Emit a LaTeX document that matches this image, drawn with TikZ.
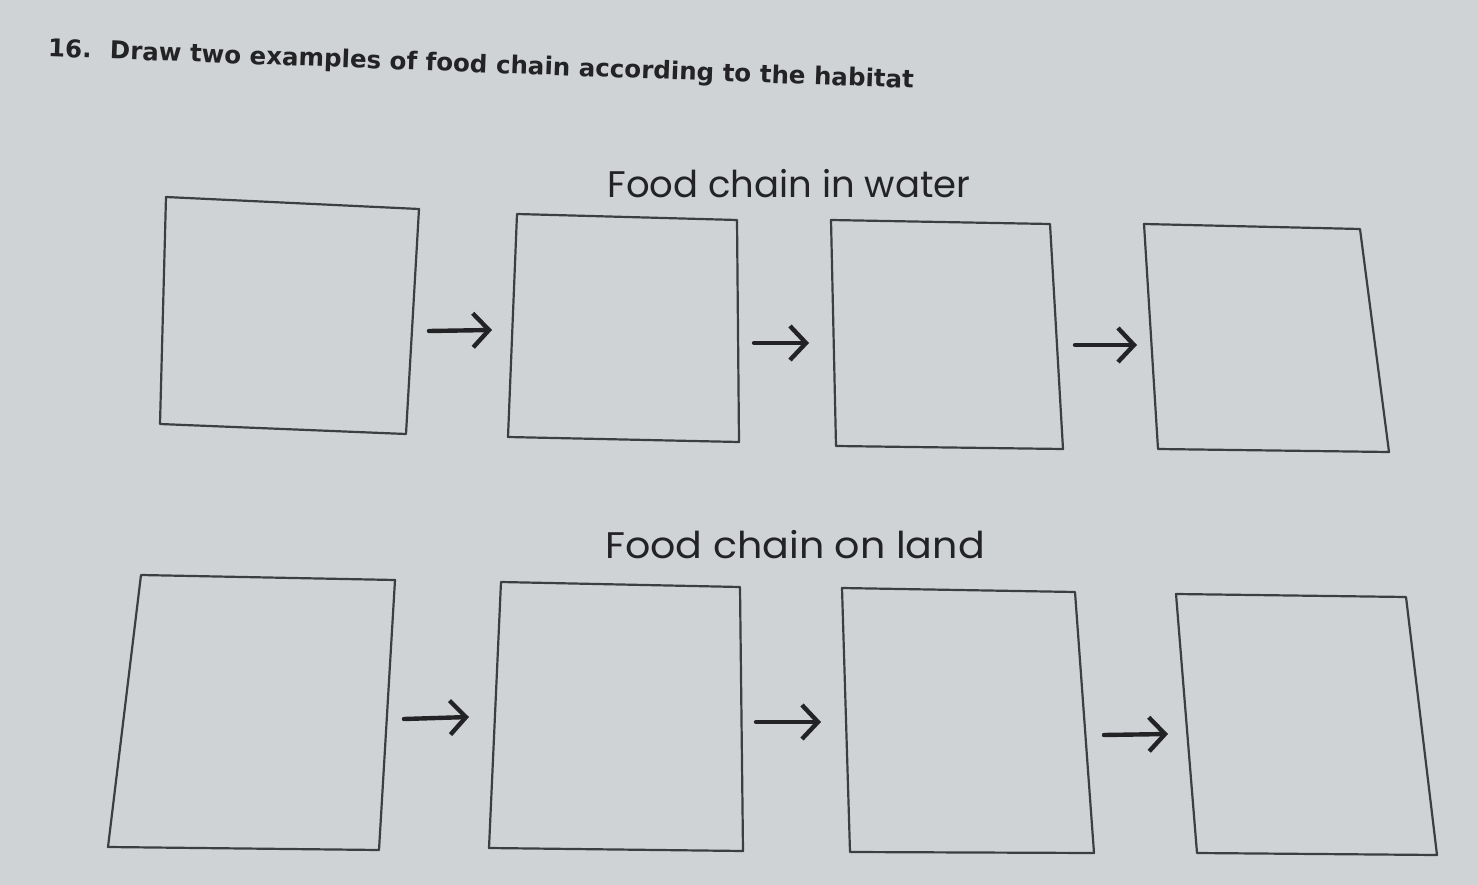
\documentclass[tikz,border=0pt]{standalone}
\usepackage{fontspec}
\setmainfont{DejaVu Sans}
\newfontfamily\roundfont{Poppins}
\usetikzlibrary{arrows.meta}
\definecolor{paper}{RGB}{208,211,213}
\definecolor{ink}{RGB}{35,35,37}
\definecolor{boxline}{RGB}{60,62,64}
\begin{document}
\begin{tikzpicture}[x=1pt,y=-1pt,
  boxedge/.style={draw=boxline,line width=2.2pt,line join=round},
  chainarrow/.style={draw=ink,line width=4.4pt,line cap=round,
    -{Straight Barb[length=16pt,width=34pt,line width=4.4pt]}},
  heading/.style={font=\roundfont\fontsize{37}{44}\selectfont,text=ink,inner sep=0pt}]
\fill[paper] (0,0) rectangle (1478,885);
\useasboundingbox (0,0) rectangle (1478,885);
% question
\node[anchor=west,font=\bfseries\fontsize{24.5}{29}\selectfont,text=ink,rotate=-2.1,inner sep=0pt] (q) at (48,50) {16.\hspace{0.75em}Draw two examples of food chain according to the habitat};
% headings
\node[heading] (hw) at (789,184) {Food chain in water};
\node[heading,xscale=1.07] (hl) at (795,545) {Food chain on land};
% water boxes
\draw[boxedge] (166,197) -- (419,209) -- (406,434) -- (160,424) -- cycle;
\draw[boxedge] (517,214) -- (737,220) -- (739,442) -- (508,437) -- cycle;
\draw[boxedge] (831,220) -- (1050,224) -- (1063,449) -- (836,446) -- cycle;
\draw[boxedge] (1144,224) -- (1360,229) -- (1389,452) -- (1158,449) -- cycle;
% land boxes
\draw[boxedge] (141,575) -- (395,580) -- (379,850) -- (108,847) -- cycle;
\draw[boxedge] (501,582) -- (740,587) -- (743,851) -- (489,848) -- cycle;
\draw[boxedge] (842,588) -- (1075,592) -- (1094,853) -- (850,852) -- cycle;
\draw[boxedge] (1176,594) -- (1406,597) -- (1437,855) -- (1197,853) -- cycle;
% arrow coordinates
\coordinate (wa1s) at (429,331); \coordinate (wa1e) at (492,330);
\coordinate (wa2s) at (754,343); \coordinate (wa2e) at (809,343);
\coordinate (wa3s) at (1075,345); \coordinate (wa3e) at (1137,345);
\coordinate (la1s) at (404,719); \coordinate (la1e) at (469,717);
\coordinate (la2s) at (756,722); \coordinate (la2e) at (821,722);
\coordinate (la3s) at (1104,735); \coordinate (la3e) at (1168,734);
\draw[chainarrow] (wa1s) -- (wa1e);
\draw[chainarrow] (wa2s) -- (wa2e);
\draw[chainarrow] (wa3s) -- (wa3e);
\draw[chainarrow] (la1s) -- (la1e);
\draw[chainarrow] (la2s) -- (la2e);
\draw[chainarrow] (la3s) -- (la3e);
\end{tikzpicture}
\end{document}
